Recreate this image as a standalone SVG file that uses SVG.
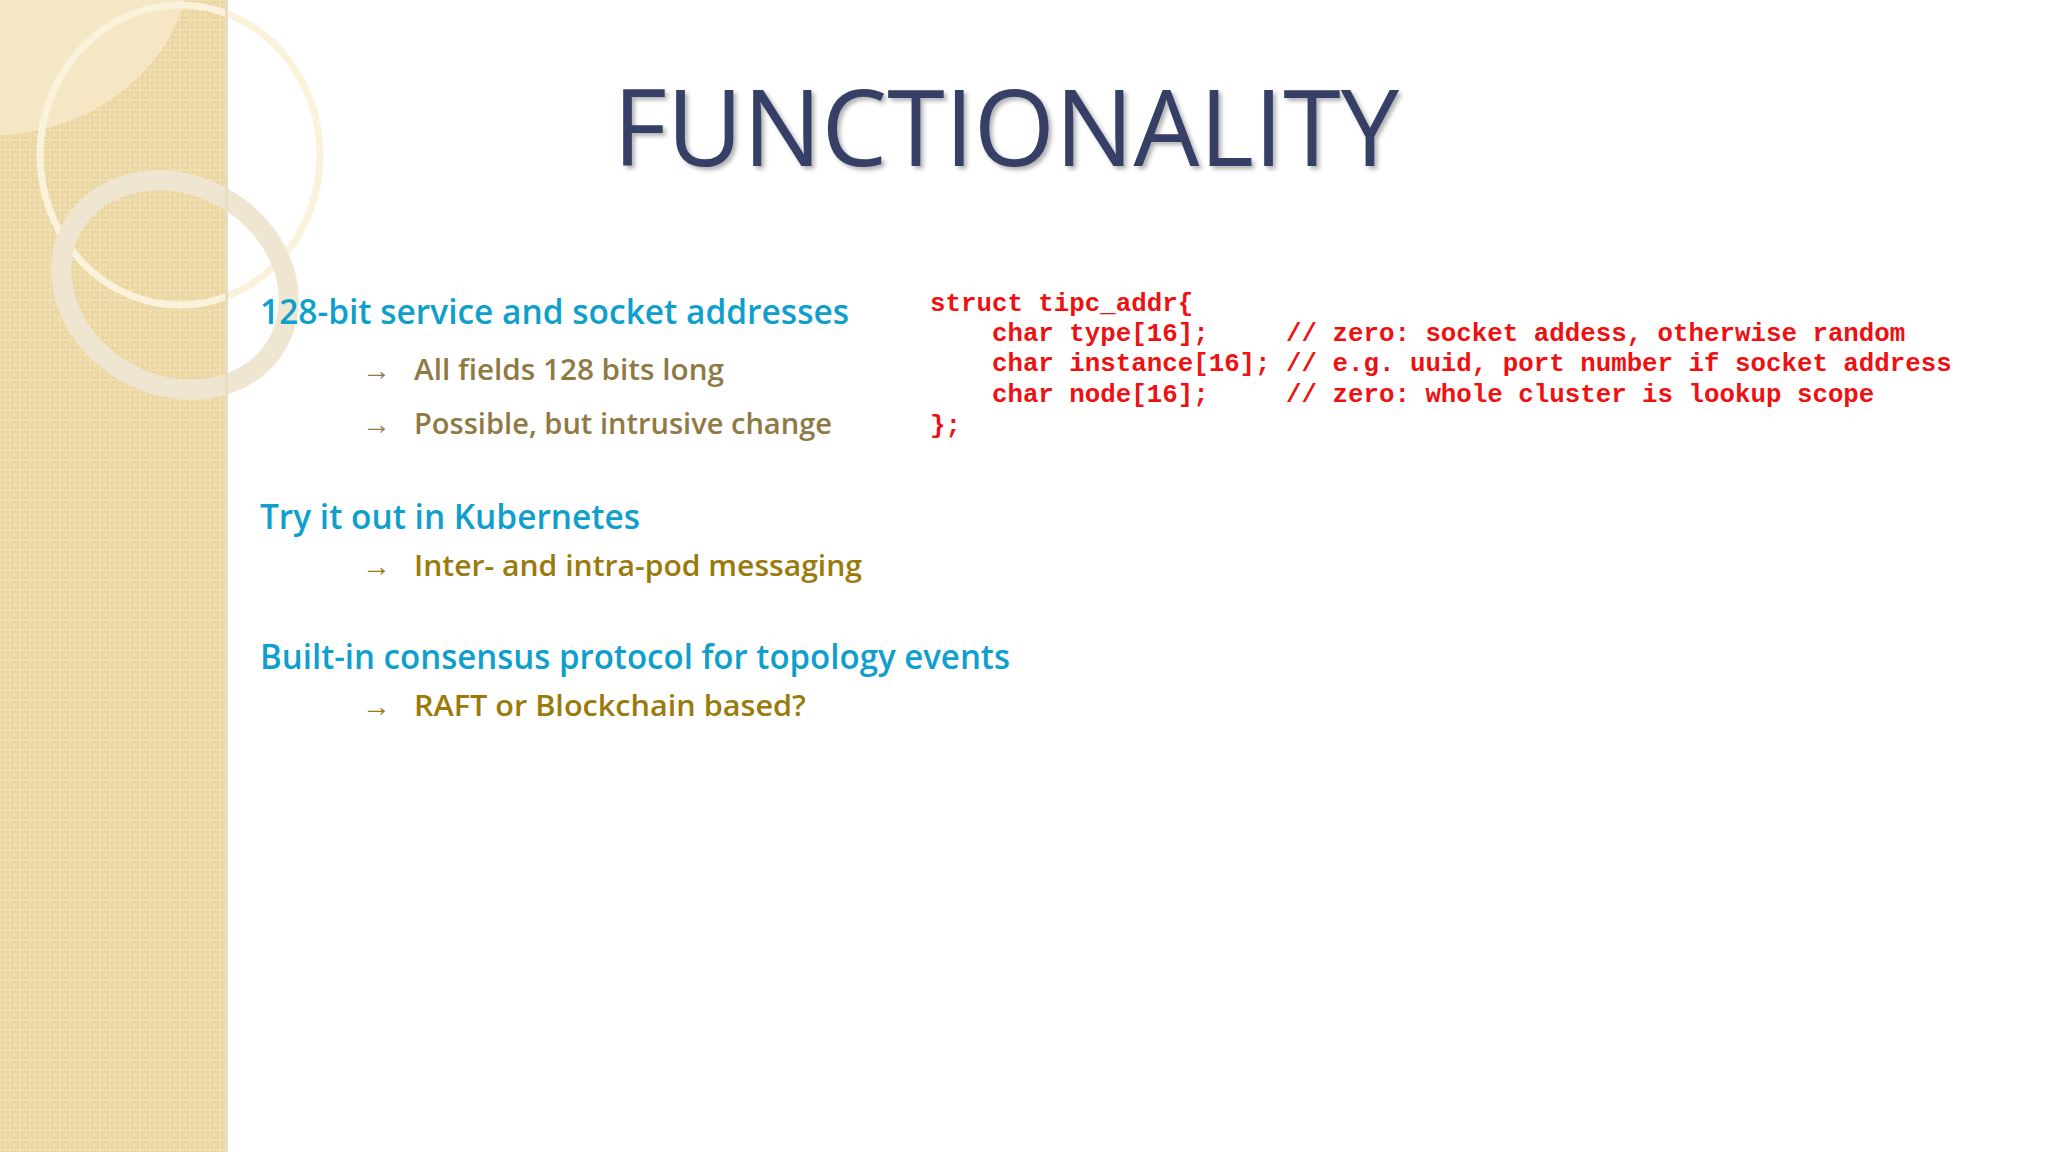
<svg xmlns="http://www.w3.org/2000/svg" width="2048" height="1152" viewBox="0 0 2048 1152">
<defs>
<pattern id="dots" width="10" height="10" patternUnits="userSpaceOnUse">
<rect width="10" height="10" fill="#f1deb0"/>
<rect x="2" y="2" width="6" height="6" fill="none" stroke="#e6cf98" stroke-width="1.2"/>
</pattern>
<style>
.h{font-family:"Open Sans","Liberation Sans",sans-serif;font-weight:600;font-size:34px;fill:#0f9fcd}
.s1{font-family:"Open Sans","Liberation Sans",sans-serif;font-weight:600;font-size:29px;fill:#8f7a45}
.s2{font-family:"Open Sans","Liberation Sans",sans-serif;font-weight:600;font-size:29px;fill:#9b7a0c}
.c{font-family:"Liberation Mono",monospace;font-weight:bold;font-size:25.8px;fill:#ee1111;white-space:pre}
</style>
</defs>
<rect width="2048" height="1152" fill="#ffffff"/>
<g id="sidebar">
<rect width="227" height="1152" fill="url(#dots)"/>
<path d="M0 0 H185 A200 180 0 0 1 0 135 Z" fill="#f8ecd0" opacity="0.7"/>
<ellipse cx="180" cy="155" rx="140" ry="150" fill="none" stroke="#fbf2dc" stroke-width="7"/>
<ellipse cx="175" cy="285" rx="118" ry="100" transform="rotate(30 175 285)" fill="none" stroke="#efe6d2" stroke-width="20"/>
<rect x="225" y="0" width="3" height="1152" fill="#e9dcc0"/>
</g>
<g id="title">
<text x="1006" y="166" text-anchor="middle" font-family="Open Sans, Liberation Sans, sans-serif" font-size="106" fill="#364066" textLength="786" lengthAdjust="spacingAndGlyphs" style="filter:drop-shadow(3px 3px 2px rgba(0,0,0,0.3))">FUNCTIONALITY</text>
</g>
<g id="bullets">
<text class="h" x="260" y="324" textLength="589" lengthAdjust="spacingAndGlyphs">128-bit service and socket addresses</text>
<text class="s1" x="362" y="380">→</text>
<text class="s1" x="414" y="380" textLength="310" lengthAdjust="spacingAndGlyphs">All fields 128 bits long</text>
<text class="s1" x="362" y="434">→</text>
<text class="s1" x="414" y="434" textLength="418" lengthAdjust="spacingAndGlyphs">Possible, but intrusive change</text>
<text class="h" x="260" y="529" textLength="380" lengthAdjust="spacingAndGlyphs">Try it out in Kubernetes</text>
<text class="s2" x="362" y="576">→</text>
<text class="s2" x="414" y="576" textLength="448" lengthAdjust="spacingAndGlyphs">Inter- and intra-pod messaging</text>
<text class="h" x="260" y="669" textLength="750" lengthAdjust="spacingAndGlyphs">Built-in consensus protocol for topology events</text>
<text class="s2" x="362" y="716">→</text>
<text class="s2" x="414" y="716" textLength="392" lengthAdjust="spacingAndGlyphs">RAFT or Blockchain based?</text>
</g>
<g id="code">
<text class="c" x="930" y="311">struct tipc_addr{</text>
<text class="c" x="930" y="341">    char type[16];     // zero: socket addess, otherwise random</text>
<text class="c" x="930" y="371">    char instance[16]; // e.g. uuid, port number if socket address</text>
<text class="c" x="930" y="402">    char node[16];     // zero: whole cluster is lookup scope</text>
<text class="c" x="930" y="433">};</text>
</g>
</svg>
